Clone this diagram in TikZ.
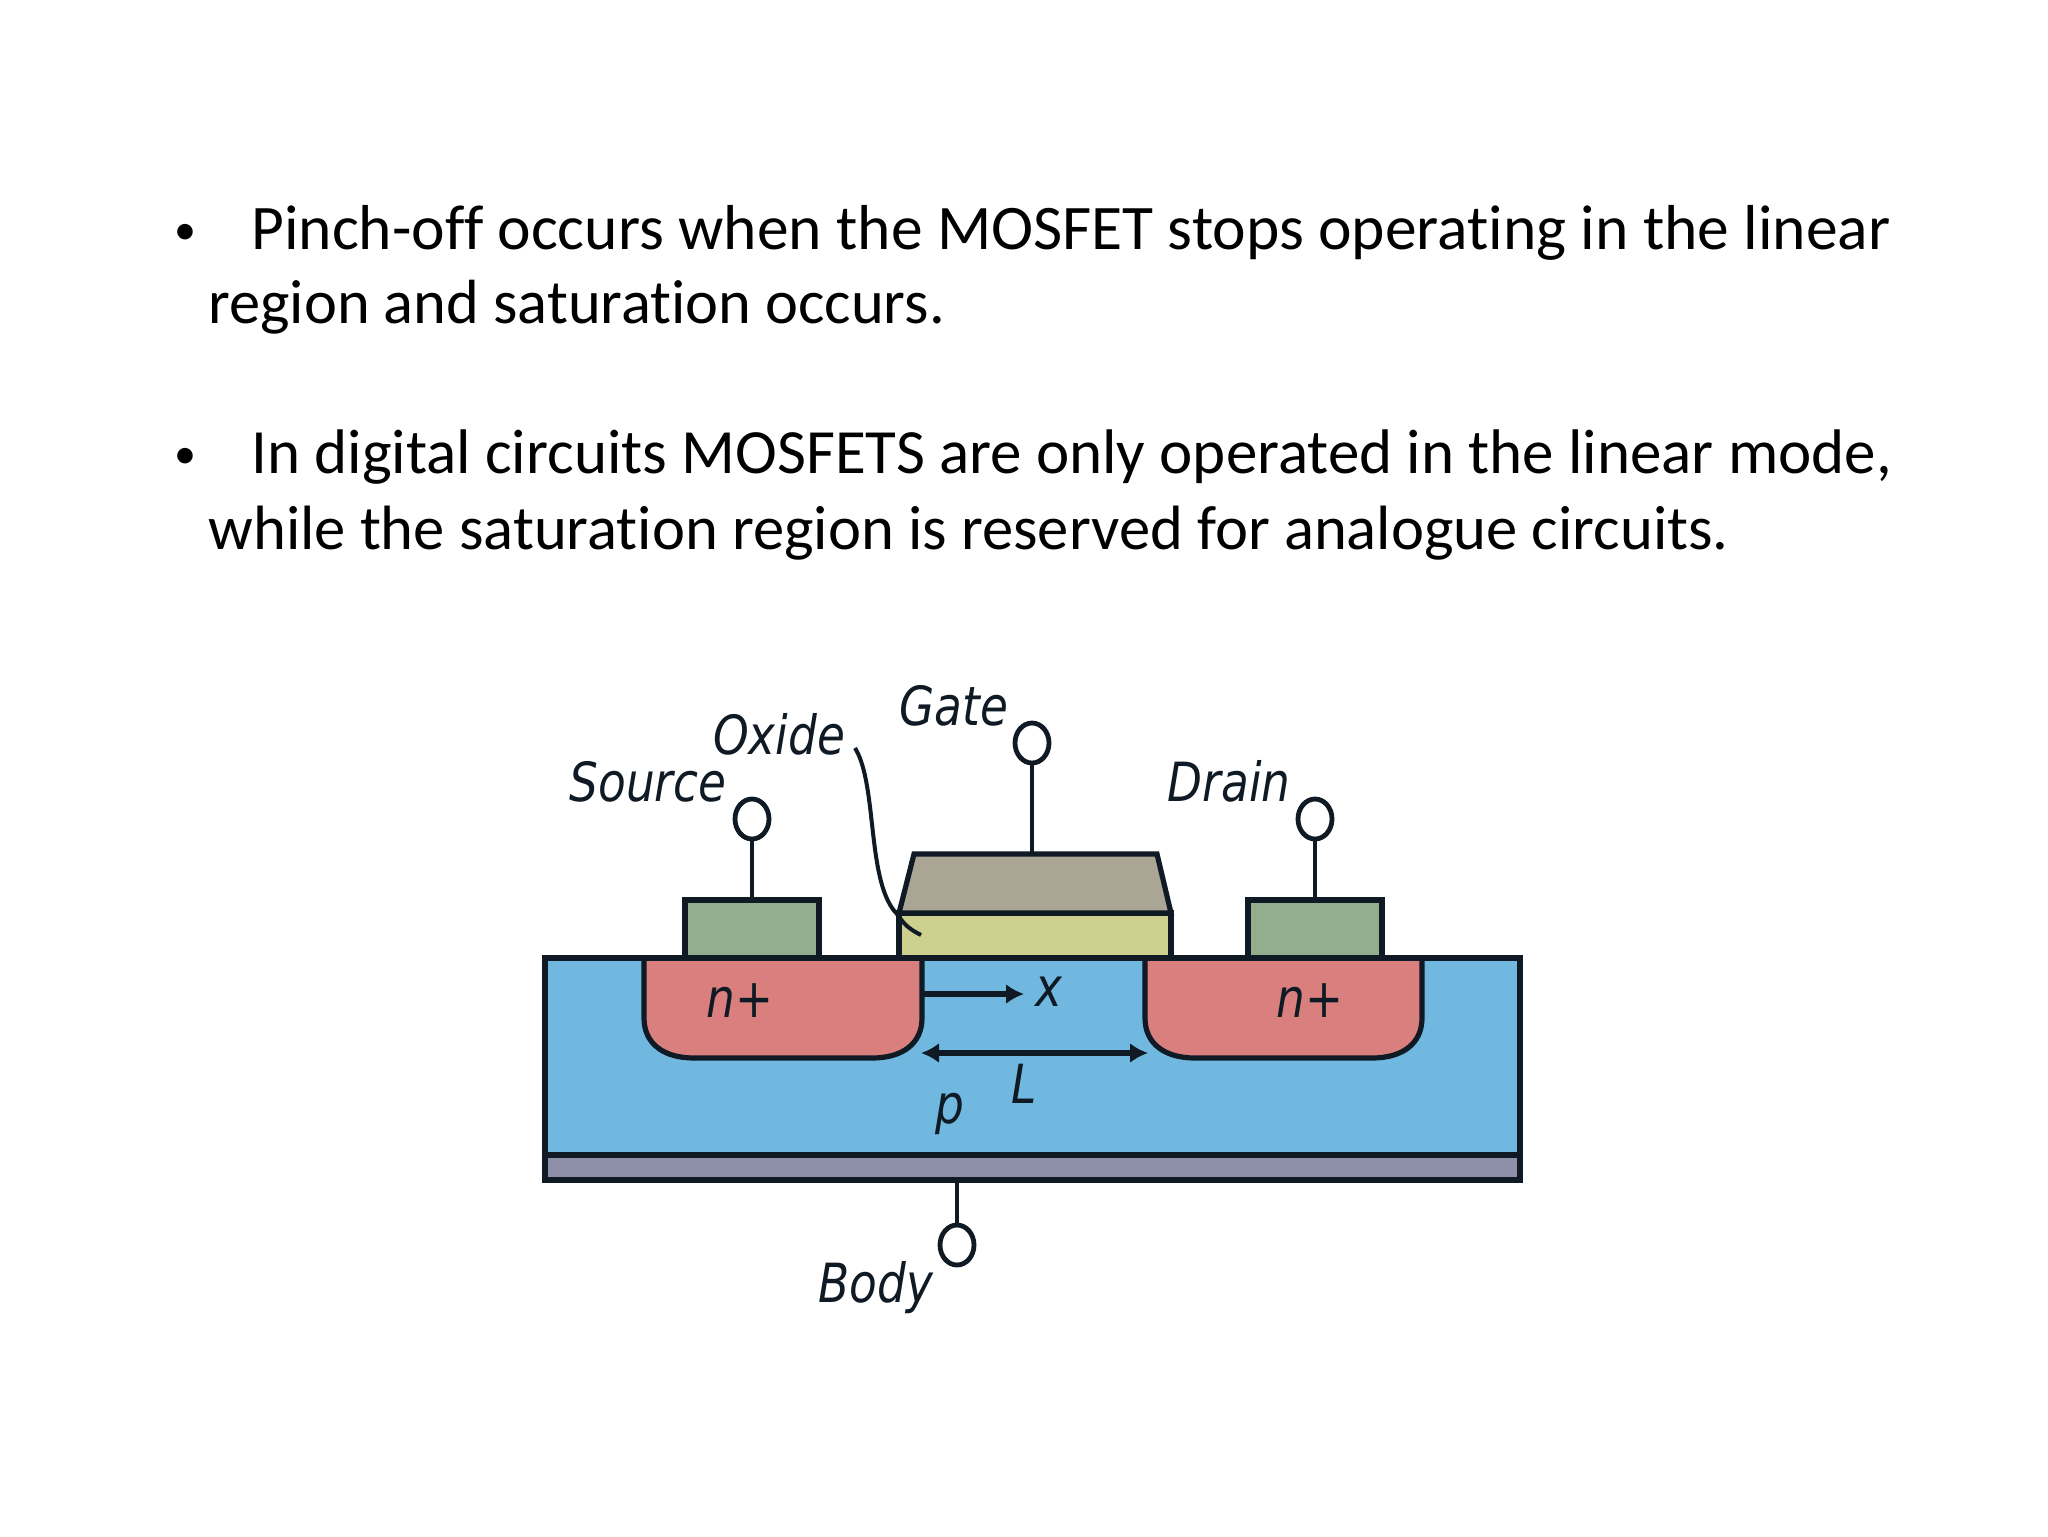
\documentclass[tikz,border=0pt]{standalone}
\usepackage{fontspec}
\setmainfont[Ligatures=NoCommon]{Carlito}
\newfontfamily\lab[FakeStretch=0.84]{DejaVu Sans}
\usetikzlibrary{arrows.meta,shapes.geometric}
\definecolor{ink}{HTML}{0F1A24}
\definecolor{subst}{HTML}{70B8E0}
\definecolor{nreg}{HTML}{D9807E}
\definecolor{contact}{HTML}{93AD8F}
\definecolor{gatec}{HTML}{ABA595}
\definecolor{oxidec}{HTML}{CDD08F}
\definecolor{plate}{HTML}{8E8FA8}
\tikzset{
  body text/.style={anchor=base west,inner sep=0pt,font=\fontsize{#1}{36}\selectfont,text=black},
  bullet text/.style={anchor=base west,inner sep=0pt,font=\fontsize{22}{26}\selectfont,text=black},
  lbl/.style={inner sep=0pt,font=\lab\itshape\fontsize{27}{30}\selectfont,text=ink},
  shapeline/.style={draw=ink,line width=2.6pt,line join=miter},
  wire/.style={draw=ink,line width=2pt},
  terminal/.style={ellipse,draw=ink,line width=2.4pt,fill=white,minimum width=17pt,minimum height=20pt,inner sep=0pt},
  contactbox/.style={shapeline,fill=contact,minimum width=67pt,minimum height=29pt,inner sep=0pt},
  dim/.style={draw=ink,line width=2.6pt,-{Latex[length=9pt,width=10pt]}},
  dimboth/.style={draw=ink,line width=2.6pt,{Latex[length=9pt,width=10pt]}-{Latex[length=9pt,width=10pt]}}
}
\begin{document}
\begin{tikzpicture}[x=0.5pt,y=-0.5pt]
\useasboundingbox[fill=white] (0,0) rectangle (2048,1536);
% text
\node[bullet text] (b1) at (174,244) {•};
\node[body text=31.75] (t1) at (251,249) {Pinch-off occurs when the MOSFET stops operating in the linear};
\node[body text=31.2] (t2) at (208,323) {region and saturation occurs.};
\node[bullet text] (b2) at (174,468) {•};
\node[body text=31.5] (t3) at (251,473) {In digital circuits MOSFETS are only operated in the linear mode,};
\node[body text=31.3] (t4) at (208,549) {while the saturation region is reserved for analogue circuits.};
% substrate
\draw[shapeline,fill=subst] (545,958) rectangle (1520,1155);
\draw[shapeline,fill=plate] (545,1155) rectangle (1520,1180);
% n+ regions
\draw[shapeline,fill=nreg] (644,958) -- (644,1018) .. controls (644,1044) and (664,1058) .. (694,1058)
  -- (872,1058) .. controls (902,1058) and (922,1044) .. (922,1018) -- (922,958);
\draw[shapeline,fill=nreg] (1145,958) -- (1145,1018) .. controls (1145,1044) and (1165,1058) .. (1195,1058)
  -- (1372,1058) .. controls (1402,1058) and (1422,1044) .. (1422,1018) -- (1422,958);
\draw[shapeline] (545,958) -- (1520,958);
% oxide and gate
\draw[shapeline,fill=oxidec] (899,958) rectangle (1171,913);
\draw[shapeline,fill=gatec] (899,913) -- (914,854) -- (1157,854) -- (1171,913) -- cycle;
% contacts
\node[contactbox] (sc) at (752,929) {};
\node[contactbox] (dc) at (1315,929) {};
% terminals
\node[terminal] (st) at (752,819) {};
\node[terminal] (gt) at (1032,743) {};
\node[terminal] (dt) at (1315,819) {};
\node[terminal] (bt) at (957,1245) {};
\coordinate (gtop) at (1032,854);
\coordinate (bbot) at (957,1180);
\draw[wire] (st) -- (sc);
\draw[wire] (gt) -- (gtop);
\draw[wire] (dt) -- (dc);
\draw[wire] (bt) -- (bbot);
% oxide leader
\coordinate (oxs) at (855,748);
\coordinate (oxe) at (921,935);
\draw[wire] (oxs) .. controls (878,785) and (866,885) .. (898,915) .. controls (904,925) and (911,930) .. (oxe);
% labels
\node[lbl] (source) at (648,782) {Source};
\node[lbl] (oxide) at (779,734) {Oxide};
\node[lbl] (gate) at (954,706) {Gate};
\node[lbl] (drain) at (1229,781) {Drain};
\node[lbl] (bodyl) at (876,1288) {Body};
\node[lbl] (n1) at (740,1001) {n+};
\node[lbl] (n2) at (1310,1001) {n+};
\node[lbl] (xl) at (1049,992) {x};
\node[lbl] (pl) at (950,1114) {p};
\node[lbl] (ll) at (1024,1084) {L};
% arrows
\coordinate (xs) at (924,994);
\coordinate (xe) at (1024,994);
\coordinate (ls) at (921,1053);
\coordinate (le) at (1148,1053);
\draw[dim] (xs) -- (xe);
\draw[dimboth] (ls) -- (le);
\end{tikzpicture}
\end{document}
